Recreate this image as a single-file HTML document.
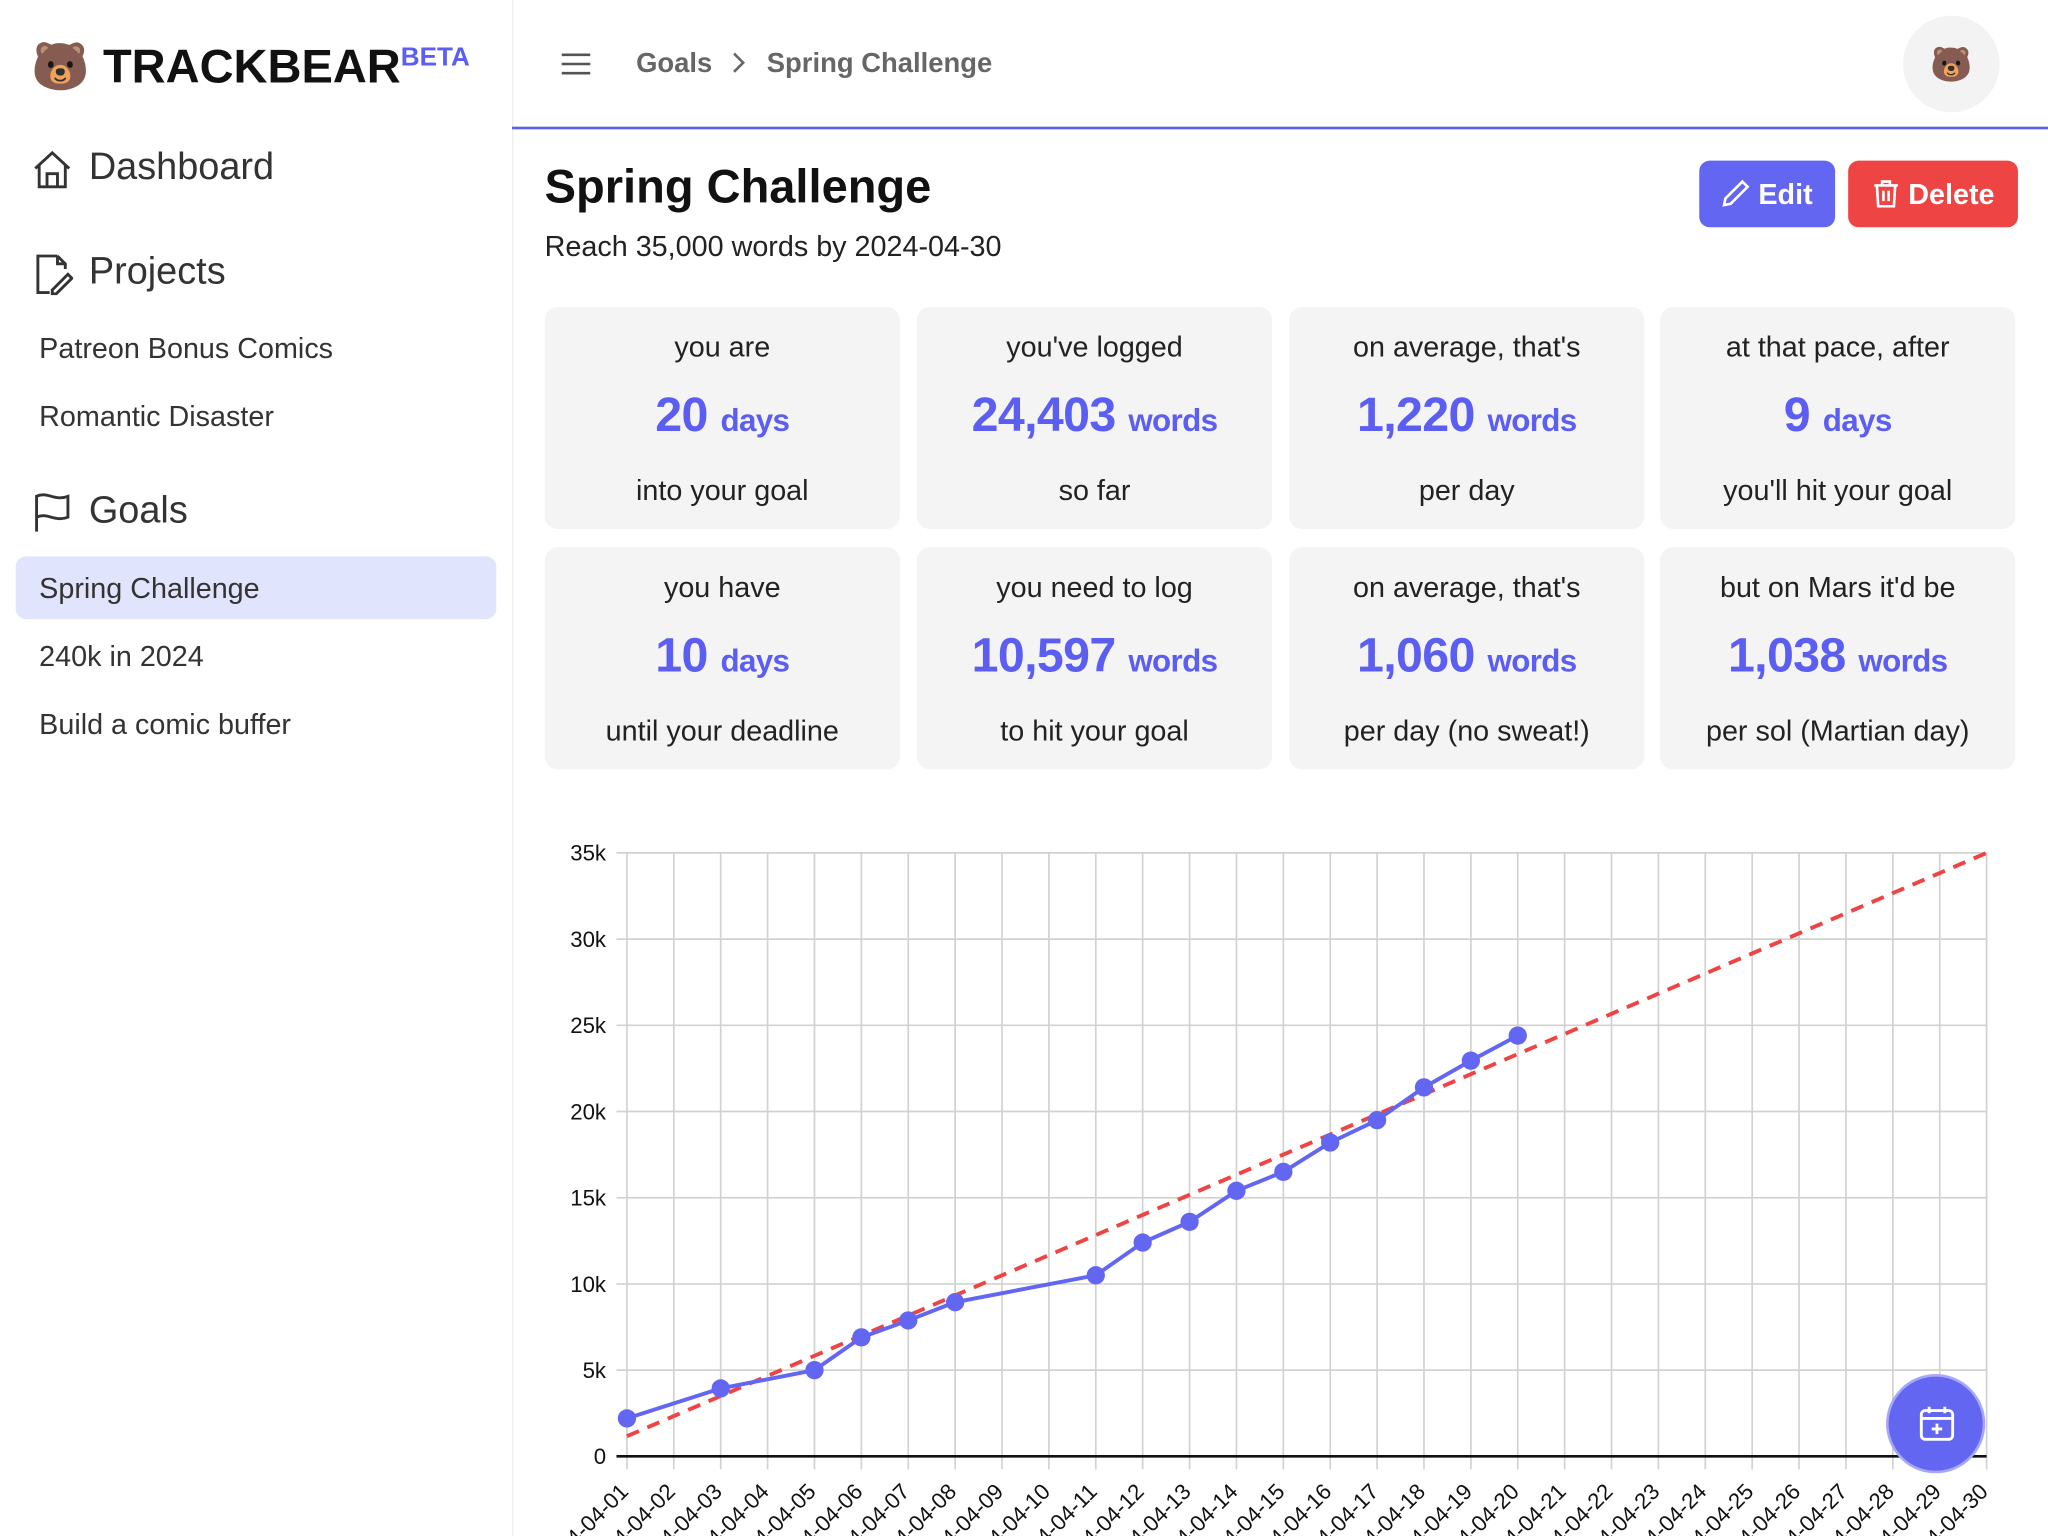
<!DOCTYPE html>
<html><head><meta charset="utf-8"><style>
body{margin:0;width:2048px;height:1536px;overflow:hidden;background:#fff;font-family:"Liberation Sans",sans-serif}
#root{position:absolute;left:0;top:0;width:1568px;height:1176px;transform:scale(1.306122);transform-origin:0 0}
.abs{position:absolute}
.nav{position:absolute;left:30px;font-size:22px;color:#333}
.head{position:absolute;left:68px;font-size:29px;color:#333}
.card{position:absolute;width:272px;height:170px;background:#f4f4f5;border-radius:10px;text-align:center;color:#222}
.card .t{position:absolute;top:18px;width:100%;font-size:22px}
.card .n{position:absolute;top:62px;width:100%;font-size:37px;font-weight:bold;color:#5b5ef0;letter-spacing:-0.5px}
.card .n span{font-size:24px}
.card .b{position:absolute;top:128px;width:100%;font-size:22px}
</style></head><body><div id="root">
<div class="abs" style="left:0;top:0;width:392px;height:1176px;border-right:1px solid #eee">
 <div class="abs" style="left:24px;top:30px;font-size:36px;font-weight:bold;color:#111;white-space:nowrap">🐻 TRACKBEAR<sup style="font-size:20px;color:#5b5ef0">BETA</sup></div>
 <svg class="abs" style="left:24px;top:114px" width="32" height="32" viewBox="0 0 32 32" fill="none" stroke="#333" stroke-width="2.2"><path d="M3 15 L16 3 L29 15 M6 12 V29 H26 V12 M12 29 V19 H20 V29"/></svg>
 <div class="head" style="top:112px">Dashboard</div>
 <svg class="abs" style="left:24px;top:194px" width="32" height="32" viewBox="0 0 32 32" fill="none" stroke="#333" stroke-width="2.2"><path d="M20 2 H5 V30 H14 M20 2 L26 8 V12 M20 2 V8 H26 M16 28 L28 16 L31 19 L19 31 H16 Z"/></svg>
 <div class="head" style="top:192px">Projects</div>
 <div class="nav" style="top:254px">Patreon Bonus Comics</div>
 <div class="nav" style="top:306px">Romantic Disaster</div>
 <svg class="abs" style="left:24px;top:376px" width="32" height="32" viewBox="0 0 32 32" fill="none" stroke="#333" stroke-width="2.2"><path d="M4 31 V3 M4 4 C12 0 18 8 28 4 V20 C18 24 12 16 4 20"/></svg>
 <div class="head" style="top:375px">Goals</div>
 <div class="abs" style="left:12px;top:426px;width:368px;height:48px;background:#e0e4fd;border-radius:8px"></div>
 <div class="nav" style="top:438px">Spring Challenge</div>
 <div class="nav" style="top:490px">240k in 2024</div>
 <div class="nav" style="top:542px">Build a comic buffer</div>
</div>
<div class="abs" style="left:392px;top:97px;width:1176px;height:2px;background:#5b5ef0"></div>
<svg class="abs" style="left:430px;top:40px" width="22" height="18" viewBox="0 0 22 18" stroke="#555" stroke-width="2"><path d="M0 2H22M0 9H22M0 16H22"/></svg>
<div class="abs" style="left:487px;top:37px;font-size:21px;font-weight:bold;color:#666;white-space:nowrap">Goals <svg width="30" height="20" viewBox="0 0 30 20" style="vertical-align:-3px"><path d="M11 3 L18 10 L11 17" fill="none" stroke="#666" stroke-width="2"/></svg> Spring Challenge</div>
<div class="abs" style="left:1457px;top:12px;width:74px;height:74px;border-radius:50%;background:#f3f3f3;text-align:center;line-height:74px;font-size:26px">🐻</div>
<div class="abs" style="left:417px;top:122px;font-size:36px;font-weight:bold;color:#111">Spring Challenge</div>
<div class="abs" style="left:417px;top:176px;font-size:22px;color:#222">Reach 35,000 words by 2024-04-30</div>
<div class="abs" style="left:1301px;top:123px;width:104px;height:51px;background:#6366f1;border-radius:8px;color:#fff;font-size:22px;font-weight:bold;line-height:51px;text-align:center"><svg width="22" height="22" viewBox="0 0 22 22" style="vertical-align:-3px" fill="none" stroke="#fff" stroke-width="2"><path d="M2 20 L3 15 L16 2 L20 6 L7 19 Z"/></svg> Edit</div>
<div class="abs" style="left:1415px;top:123px;width:130px;height:51px;background:#ef4444;border-radius:8px;color:#fff;font-size:22px;font-weight:bold;line-height:51px;text-align:center"><svg width="22" height="22" viewBox="0 0 22 22" style="vertical-align:-3px" fill="none" stroke="#fff" stroke-width="2"><path d="M2 5H20M8 5V2H14V5M4 5L5 21H17L18 5M9 9V17M13 9V17"/></svg> Delete</div>
<div class="card" style="left:417px;top:235px"><div class="t">you are</div><div class="n">20 <span>days</span></div><div class="b">into your goal</div></div>
<div class="card" style="left:702px;top:235px"><div class="t">you've logged</div><div class="n">24,403 <span>words</span></div><div class="b">so far</div></div>
<div class="card" style="left:987px;top:235px"><div class="t">on average, that's</div><div class="n">1,220 <span>words</span></div><div class="b">per day</div></div>
<div class="card" style="left:1271px;top:235px"><div class="t">at that pace, after</div><div class="n">9 <span>days</span></div><div class="b">you'll hit your goal</div></div>
<div class="card" style="left:417px;top:419px"><div class="t">you have</div><div class="n">10 <span>days</span></div><div class="b">until your deadline</div></div>
<div class="card" style="left:702px;top:419px"><div class="t">you need to log</div><div class="n">10,597 <span>words</span></div><div class="b">to hit your goal</div></div>
<div class="card" style="left:987px;top:419px"><div class="t">on average, that's</div><div class="n">1,060 <span>words</span></div><div class="b">per day (no sweat!)</div></div>
<div class="card" style="left:1271px;top:419px"><div class="t">but on Mars it'd be</div><div class="n">1,038 <span>words</span></div><div class="b">per sol (Martian day)</div></div>
<svg id="chart" class="abs" style="left:0;top:0" width="1568" height="1176"></svg>
<div class="abs" style="left:1444px;top:1052px;width:72px;height:72px;border-radius:50%;background:#6366f1;border:2px solid #a5a8f7"><svg class="abs" style="left:23px;top:22px" width="28" height="28" viewBox="0 0 28 28" fill="none" stroke="#fff" stroke-width="2.2"><rect x="2" y="4" width="24" height="22" rx="3"/><path d="M2 10H26M8 1V6M20 1V6M14 14V22M10 18H18"/></svg></div>
</div>
<script>
const dates=[];for(let d=1;d<=30;d++)dates.push('2024-04-'+String(d).padStart(2,'0'));
const actualDays=[1,3,5,6,7,8,11,12,13,14,15,16,17,18,19,20];
const actualValues=[2200,3940,5000,6900,7880,8940,10500,12400,13600,15400,16500,18200,19500,21400,22950,24403];
const targetValues=dates.map((_,i)=>Math.round(35000*(i+1)/30));
const yTicks=[0,5000,10000,15000,20000,25000,30000,35000];
const yTickLabels=['0','5k','10k','15k','20k','25k','30k','35k'];
const svg=document.getElementById('chart'),NS='http://www.w3.org/2000/svg';
const X0=480,X1=1521,Y0=1115,Y1=653;
const x=d=>X0+(d-1)*(X1-X0)/29, y=v=>Y0-v*(Y0-Y1)/35000;
function mk(t,a){const e=document.createElementNS(NS,t);for(const k in a)e.setAttribute(k,a[k]);svg.appendChild(e);return e;}
dates.forEach((dt,i)=>{
 const l=mk('line',{x1:x(i+1),x2:x(i+1),y1:Y1,y2:Y0+10,stroke:'#d4d2d0','stroke-width':1.3});
 
 
 const t=mk('text',{x:x(i+1)+2,y:Y0+28,'font-size':17,'text-anchor':'end',fill:'#111',transform:`rotate(-45 ${x(i+1)+2} ${Y0+28})`});
 t.textContent=dt;
 
 
});
yTicks.forEach((v,i)=>{
 const l=mk('line',{x1:X0-8,x2:X1,y1:y(v),y2:y(v),stroke:v===0?'#111':'#d4d2d0','stroke-width':v===0?2:1.3});
 
 
 const t=mk('text',{x:X0-16,y:y(v)+6,'font-size':17,'text-anchor':'end',fill:'#111'});
 t.textContent=yTickLabels[i];
 
 
});
const tl=mk('polyline',{points:targetValues.map((v,i)=>x(i+1)+','+y(v)).join(' '),fill:'none',stroke:'#ef4444','stroke-width':3,'stroke-dasharray':'10 7'});


const al=mk('polyline',{points:actualValues.map((v,i)=>x(actualDays[i])+','+y(v)).join(' '),fill:'none',stroke:'#6366f1','stroke-width':3});


actualValues.forEach((v,i)=>{
 const c=mk('circle',{cx:x(actualDays[i]),cy:y(v),r:7,fill:'#6366f1'});
 
 
});
</script>
</body></html>
